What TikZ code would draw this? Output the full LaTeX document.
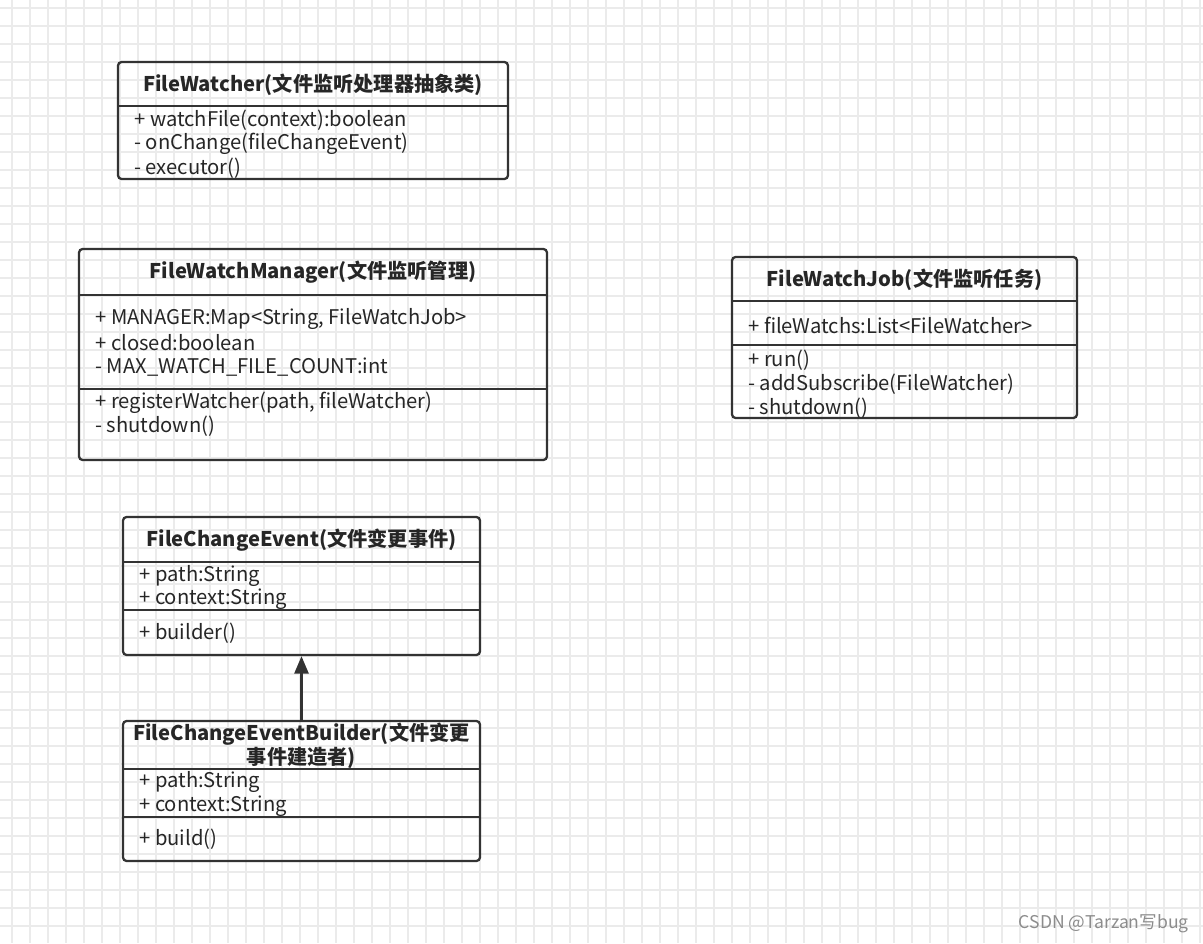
\documentclass[tikz,border=0pt]{standalone}
\usepackage{fontspec}
\setmainfont{Noto Sans CJK SC}
\usetikzlibrary{arrows.meta}
\tikzset{
  classbox/.style={draw=black!80,line width=1.3pt,rounded corners=2pt,inner sep=0pt},
  member/.style={anchor=west,inner sep=0pt,font=\fontsize{11.5}{13}\selectfont,text=black!85},
  title/.style={inner sep=0pt,font=\bfseries\fontsize{11.5}{13.5}\selectfont,text=black!85,align=center},
  divider/.style={draw=black!80,line width=1.3pt},
}
\begin{document}
\begin{tikzpicture}[x=0.02cm,y=-0.02cm]
\useasboundingbox (0,0) rectangle (1203,943);

% grid
\foreach \gx in {12,30,...,1203} \draw[black!8,line width=0.6pt] (\gx,0) -- (\gx,943);
\foreach \gy in {8,26,...,943} \draw[black!8,line width=0.6pt] (0,\gy) -- (1203,\gy);

% FileWatcher
\node[classbox,minimum width=7.8cm,minimum height=2.34cm] (fw) at (313,120.5) {};
\draw[divider] (118,106) -- (508,106);
\node[title] (fwT) at (313,85) {FileWatcher(文件监听处理器抽象类)};
\node[member] (fw1) at (134,120) {+ watchFile(context):boolean};
\node[member] (fw2) at (134,144) {- onChange(fileChangeEvent)};
\node[member] (fw3) at (134,168) {- executor()};

% FileWatchManager
\node[classbox,minimum width=9.36cm,minimum height=4.22cm] (fwm) at (313,354.5) {};
\draw[divider] (79,295) -- (547,295);
\draw[divider] (79,389) -- (547,389);
\node[title] (fwmT) at (313,272) {FileWatchManager(文件监听管理)};
\node[member] (fwm1) at (95,319) {+ MANAGER:Map<String, FileWatchJob>};
\node[member] (fwm2) at (95,343) {+ closed:boolean};
\node[member] (fwm3) at (95,367) {- MAX\_WATCH\_FILE\_COUNT:int};
\node[member] (fwm4) at (95,403) {+ registerWatcher(path, fileWatcher)};
\node[member] (fwm5) at (95,426) {- shutdown()};

% FileWatchJob
\node[classbox,minimum width=6.9cm,minimum height=3.22cm] (fwj) at (904.5,337.5) {};
\draw[divider] (732,301) -- (1077,301);
\draw[divider] (732,345) -- (1077,345);
\node[title] (fwjT) at (904.5,280) {FileWatchJob(文件监听任务)};
\node[member] (fwj1) at (748,325) {+ fileWatchs:List<FileWatcher>};
\node[member] (fwj2) at (748,360) {+ run()};
\node[member] (fwj3) at (748,384) {- addSubscribe(FileWatcher)};
\node[member] (fwj4) at (748,408) {- shutdown()};

% FileChangeEvent
\node[classbox,minimum width=7.14cm,minimum height=2.76cm] (fce) at (301.5,586) {};
\draw[divider] (123,562) -- (480,562);
\draw[divider] (123,610) -- (480,610);
\node[title] (fceT) at (301.5,540) {FileChangeEvent(文件变更事件)};
\node[member] (fce1) at (139,576) {+ path:String};
\node[member] (fce2) at (139,599) {+ context:String};
\node[member] (fce3) at (139,633) {+ builder()};

% FileChangeEventBuilder
\node[classbox,minimum width=7.14cm,minimum height=2.8cm] (fceb) at (301.5,791) {};
\draw[divider] (123,769) -- (480,769);
\draw[divider] (123,817) -- (480,817);
\node[title] (fcebT) at (301.5,746) {FileChangeEventBuilder(文件变更\\事件建造者)};
\node[member] (fceb1) at (139,782) {+ path:String};
\node[member] (fceb2) at (139,806) {+ context:String};
\node[member] (fceb3) at (139,839) {+ build()};

% relation
\draw[black!80,line width=1.5pt,-{Triangle[length=10pt,width=8pt]}] (fceb.north) -- (fce.south);

% watermark
\node[anchor=east,inner sep=0pt,font=\fontsize{10}{12}\selectfont,text=black!45] (wm) at (1189,924) {CSDN @Tarzan写bug};
\end{tikzpicture}
\end{document}
